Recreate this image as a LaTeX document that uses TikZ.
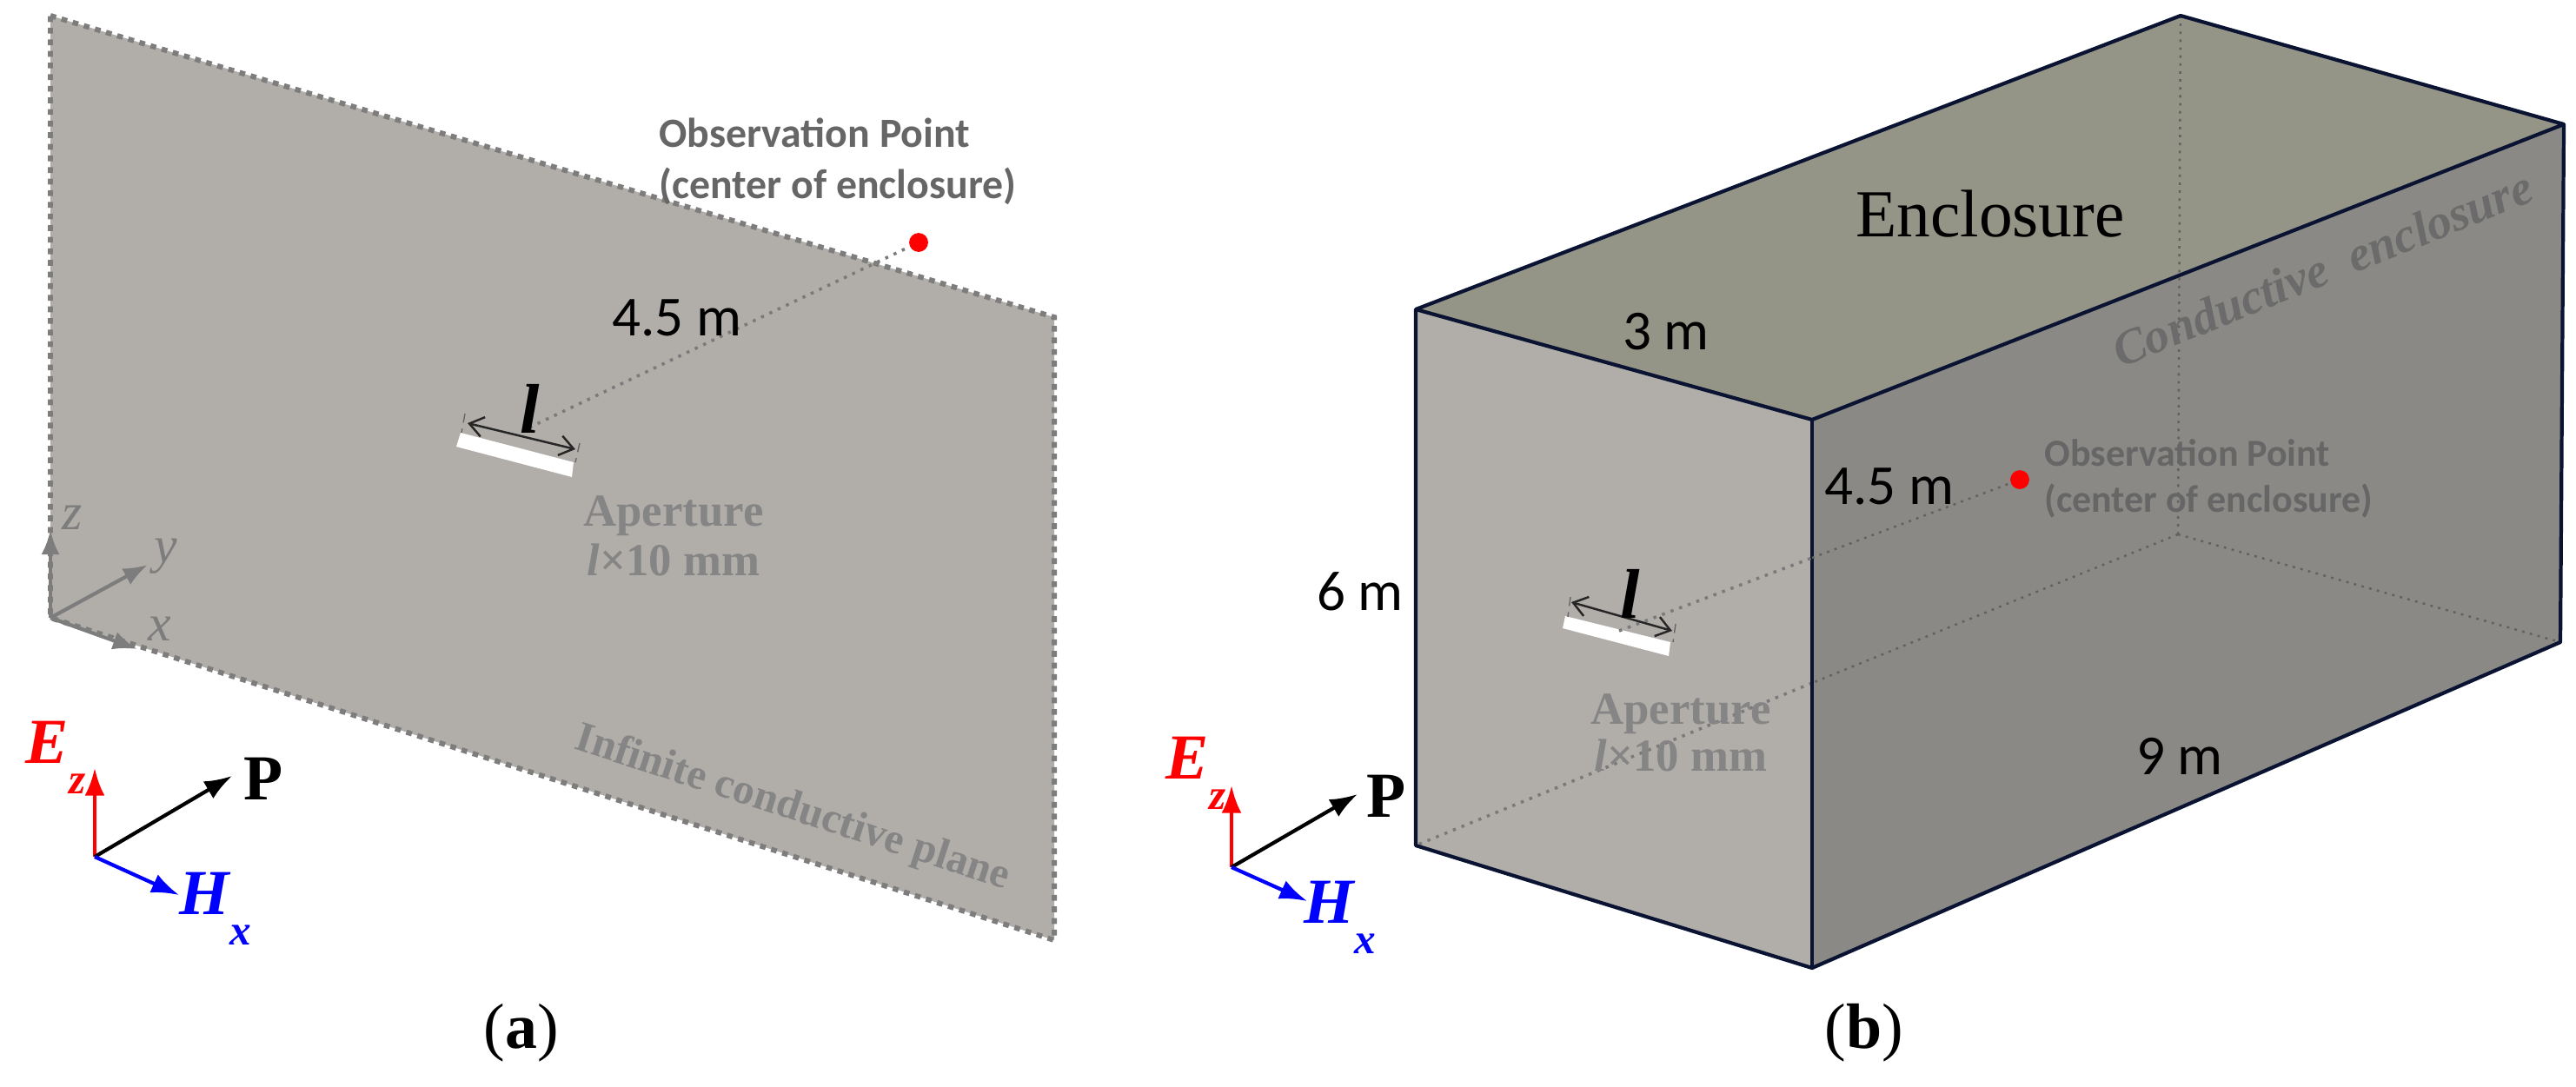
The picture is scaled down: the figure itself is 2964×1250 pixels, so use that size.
\documentclass[tikz,border=0pt]{standalone}
\usepackage{fontspec}
\setmainfont{Liberation Serif}
\newfontfamily\labelfont{Carlito}
\usetikzlibrary{arrows.meta}
\definecolor{planegray}{RGB}{177,174,170}
\definecolor{sidegray}{RGB}{138,137,133}
\definecolor{topgray}{RGB}{148,148,135}
\definecolor{edgegray}{RGB}{125,125,125}
\definecolor{edgeblue}{RGB}{10,20,50}
\tikzset{
  planeedge/.style={edgegray,line width=1.7pt,dash pattern=on 1.9pt off 1.9pt},
  boxedge/.style={edgeblue,line width=1.2pt,line join=round},
  hiddenline/.style={black!62,line width=0.7pt,dash pattern=on 0.8pt off 1.8pt},
  pathline/.style={black!52,line width=1pt,dash pattern=on 1pt off 2pt},
  fieldarrow/.style={line width=1.2pt,-{Latex[length=9pt,width=6.5pt]}},
  axisarrow/.style={edgegray,line width=1.2pt,-{Latex[length=8pt,width=6pt]}},
  sizearrow/.style={black!85,line width=0.7pt,{Straight Barb[length=4.5pt,width=6.5pt]}-{Straight Barb[length=4.5pt,width=6.5pt]}},
  sizetick/.style={black!60,line width=0.4pt,densely dashed},
  slotfill/.style={white,draw=none},
  obsdot/.style={circle,fill=red,inner sep=0pt,minimum size=6.2pt},
  dimtext/.style={font=\labelfont\fontsize{18.5}{20}\selectfont,black},
  obstext/.style={font=\labelfont\bfseries\fontsize{#1}{#1}\selectfont,text=black!60,align=left},
  aptext/.style={font=\bfseries\fontsize{15}{17}\selectfont,align=center,text=black!48,inner sep=0pt},
  axistext/.style={font=\itshape\fontsize{17}{17}\selectfont,text=edgegray,inner sep=0pt},
  fieldtext/.style={font=\bfseries\itshape\fontsize{21}{21}\selectfont,inner sep=0pt},
  lentext/.style={font=\bfseries\itshape\fontsize{23}{23}\selectfont,inner sep=0pt},
  captiontext/.style={font=\fontsize{21}{21}\selectfont,inner sep=0pt},
}
\newcommand{\fieldsub}[1]{\raisebox{-0.48em}{\fontsize{14}{14}\selectfont #1}}
\begin{document}
\begin{tikzpicture}[x=0.01cm,y=-0.01cm]
   \useasboundingbox (0,0) rectangle (2964,1250);
   % (a) plane
   \coordinate (planeA) at (58,18);
   \coordinate (planeB) at (1213,365);
   \coordinate (planeC) at (1213,1082);
   \coordinate (planeD) at (58,711);
   \fill[planegray] (planeA) -- (planeB) -- (planeC) -- (planeD) -- cycle;
   \draw[planeedge] (planeA) -- (planeB) -- (planeC) -- (planeD) -- cycle;
   \fill[slotfill] (530,498) -- (660,532) -- (658,549) -- (525,514) -- cycle;
   \node[obsdot] (obsA) at (1057,279) {};
   \coordinate (slotA) at (609,492);
   \draw[pathline] (slotA) -- (obsA);
   \node[dimtext] (distA) at (779,366) {4.5 m};
   \coordinate (lenAl) at (538,487);
   \coordinate (lenAr) at (662,517);
   \draw[sizearrow] (lenAl) -- (lenAr);
   \draw[sizetick] (535,476) -- (531,498);
   \draw[sizetick] (667,510) -- (662,532);
   \node[lentext] (lenA) at (610,470) {l};
   \node[obstext=13.6,anchor=west] (obsAtop) at (746,153) {Observation Point};
   \node[obstext=13.6,anchor=west] (obsAbot) at (746,214) {(center of enclosure)};
   \node[aptext] (apA) at (775,594) {Aperture};
   \node[aptext] (apAsize) at (775,644) {\textit{l}×10 mm};
   \node[font=\bfseries\fontsize{14}{14}\selectfont,text=black!48,rotate=-18] (infA) at (912,931) {Infinite conductive plane};
   % axes
   \draw[axisarrow] (planeD) -- (58,610);
   \draw[axisarrow] (planeD) -- (170,650);
   \draw[axisarrow] (planeD) -- (158,747);
   \node[axistext] (axZ) at (83,596) {z};
   \node[axistext] (axY) at (191,640) {y};
   \node[axistext] (axX) at (184,724) {x};
   % (a) field
   \coordinate (fieldA) at (109,986);
   \coordinate (tipEa) at (109,884);
   \coordinate (tipPa) at (267,893);
   \coordinate (tipHa) at (206,1030);
   \draw[fieldarrow,red] (fieldA) -- (tipEa);
   \draw[fieldarrow,black] (fieldA) -- (tipPa);
   \draw[fieldarrow,blue] (fieldA) -- (tipHa);
   \node[fieldtext,red] (eA) at (64,872) {E\fieldsub{z}};
   \node[fieldtext,black,font=\bfseries\fontsize{21}{21}\selectfont] (pA) at (303,896) {P};
   \node[fieldtext,blue] (hA) at (248,1046) {H\fieldsub{x}};
   \node[captiontext] (capA) at (600,1189) {(\textbf{a})};
   % (b) box
   \coordinate (boxA) at (1629,356);
   \coordinate (boxB) at (2085,483);
   \coordinate (boxC) at (2950,143);
   \coordinate (boxD) at (2509,18);
   \coordinate (boxE) at (1629,973);
   \coordinate (boxF) at (2085,1114);
   \coordinate (boxG) at (2946,739);
   \coordinate (boxH) at (2506,615);
   \coordinate (crossE) at (2085,786);
   \coordinate (crossO) at (2085,642);
   \fill[planegray] (boxA) -- (boxB) -- (boxF) -- (boxE) -- cycle;
   \fill[sidegray] (boxB) -- (boxC) -- (boxG) -- (boxF) -- cycle;
   \fill[topgray] (boxA) -- (boxB) -- (boxC) -- (boxD) -- cycle;
   \draw[hiddenline] (boxD) -- (boxH);
   \draw[hiddenline] (boxH) -- (boxG);
   \draw[hiddenline] (boxH) -- (crossE);
   \draw[pathline] (crossE) -- (boxE);
   \draw[boxedge] (boxA) -- (boxB) -- (boxC) -- (boxD) -- cycle;
   \draw[boxedge] (boxA) -- (boxE) -- (boxF) -- (boxG) -- (boxC);
   \draw[boxedge] (boxB) -- (boxF);
   \fill[slotfill] (1801,709) -- (1922,739) -- (1920,755) -- (1798,723) -- cycle;
   \node[obsdot] (obsB) at (2324,552) {};
   \coordinate (slotB) at (1863,726);
   \draw[pathline] (slotB) -- (crossO);
   \draw[hiddenline] (crossO) -- (obsB);
   \coordinate (lenBl) at (1808,693);
   \coordinate (lenBr) at (1924,726);
   \draw[sizearrow] (lenBl) -- (lenBr);
   \draw[sizetick] (1807,687) -- (1804,710);
   \draw[sizetick] (1928,718) -- (1925,739);
   \node[lentext] (lenB) at (1876,683) {l};
   \node[font=\fontsize{22}{22}\selectfont] (encl) at (2290,246) {Enclosure};
   \node[font=\bfseries\itshape\fontsize{16}{16}\selectfont,text=black!58,rotate=22] (condB) at (2672,309) {Conductive\ \ enclosure};
   \node[dimtext] (widB) at (1917,382) {3 m};
   \node[dimtext] (distB) at (2174,560) {4.5 m};
   \node[dimtext] (hgtB) at (1565,681) {6 m};
   \node[dimtext] (lenBox) at (2508,870) {9 m};
   \node[obstext=12.5,anchor=west] (obsBtop) at (2340,521) {Observation Point};
   \node[obstext=12.5,anchor=west] (obsBbot) at (2340,576) {(center of enclosure)};
   \node[aptext] (apB) at (1934,822) {Aperture};
   \node[aptext] (apBsize) at (1934,869) {\textit{l}×10 mm};
   % (b) field
   \coordinate (fieldB) at (1417,998);
   \coordinate (tipEb) at (1417,904);
   \coordinate (tipPb) at (1562,914);
   \coordinate (tipHb) at (1504,1037);
   \draw[fieldarrow,red] (fieldB) -- (tipEb);
   \draw[fieldarrow,black] (fieldB) -- (tipPb);
   \draw[fieldarrow,blue] (fieldB) -- (tipHb);
   \node[fieldtext,red] (eB) at (1376,890) {E\fieldsub{z}};
   \node[fieldtext,black,font=\bfseries\fontsize{21}{21}\selectfont] (pB) at (1595,916) {P};
   \node[fieldtext,blue] (hB) at (1542,1056) {H\fieldsub{x}};
   \node[captiontext] (capB) at (2145,1189) {(\textbf{b})};
\end{tikzpicture}
\end{document}
